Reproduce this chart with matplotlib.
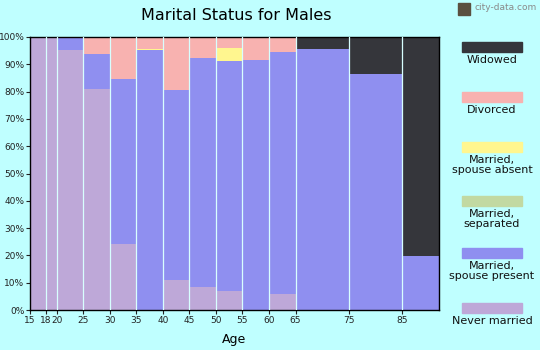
import numpy as np
import matplotlib
matplotlib.use("Agg")
import matplotlib.pyplot as plt
from matplotlib.patches import Rectangle

# age group edges (years)
age_edges = [15, 18, 20, 25, 30, 35, 40, 45, 50, 55, 60, 65, 75, 85, 92]
tick_ages = [15, 18, 20, 25, 30, 35, 40, 45, 50, 55, 60, 65, 75, 85]

# shares in percent per age group, bottom to top
never_married = [100, 100, 95.4, 81.1, 24.2, 0, 11.0, 8.4, 7.0, 0, 5.9, 0, 0, 0]
spouse_present = [0, 0, 4.6, 12.8, 60.5, 95.1, 69.7, 84.0, 84.3, 91.7, 88.7, 95.7, 86.6, 19.8]
separated = [0, 0, 0, 0, 0, 0, 0, 0, 0, 0, 0, 0, 0, 0]
spouse_absent = [0, 0, 0, 0, 0, 0.4, 0, 0, 4.8, 0, 0, 0, 0, 0]
divorced = [0, 0, 0, 6.1, 15.3, 4.5, 19.3, 7.6, 3.9, 8.3, 5.4, 0, 0, 0]
widowed = [0, 0, 0, 0, 0, 0, 0, 0, 0, 0, 0, 4.3, 13.4, 80.2]

series = [
    ("Never married", never_married, "#bea8d8"),
    ("Married,\nspouse present", spouse_present, "#8f8ff0"),
    ("Married,\nseparated", separated, "#c2d9a2"),
    ("Married,\nspouse absent", spouse_absent, "#fff68f"),
    ("Divorced", divorced, "#f8b2b0"),
    ("Widowed", widowed, "#35363b"),
]

BG = "#bfffff"

fig = plt.figure(figsize=(5.4, 3.5), dpi=100, facecolor=BG)
ax = fig.add_axes([30 / 540, 40 / 350, 409 / 540, 273 / 350])
ax.set_facecolor(BG)

left = np.array(age_edges[:-1])
widths = np.diff(age_edges)
bottom = np.zeros(len(left))
for name, vals, color in series:
    vals = np.array(vals)
    ax.bar(left, vals, width=widths, bottom=bottom, align="edge",
           color=color, linewidth=0, zorder=2)
    bottom += vals

# thin separators between age groups
for x in age_edges[1:-1]:
    ax.axvline(x, color="#d8ffff", linewidth=0.9, zorder=3)

ax.set_xlim(age_edges[0], age_edges[-1])
ax.set_ylim(0, 100)
ax.set_yticks(range(0, 101, 10))
ax.set_yticklabels([f"{v}%" for v in range(0, 101, 10)], fontsize=6.5)
ax.set_xticks(tick_ages)
ax.set_xticklabels([str(a) for a in tick_ages], fontsize=6.5)
ax.tick_params(length=3, width=0.8, pad=1, colors="#222222")
for sp in ax.spines.values():
    sp.set_linewidth(1.0)
    sp.set_color("black")
ax.set_xlabel("Age", fontsize=9, labelpad=6)

fig.text(236 / 540, 1 - 16 / 350, "Marital Status for Males", fontsize=11.5,
         ha="center", va="center")
fig.text(1 - 3 / 540, 1 - 8 / 350, "city-data.com", fontsize=6.5, color="#8a8a8a",
         ha="right", va="center")
fig.patches.append(Rectangle((458 / 540, 1 - 15 / 350), 12 / 540, 12 / 350,
                             transform=fig.transFigure, color="#5a5040"))

# legend column on the right, top entry first
legend_y = [47, 97, 147, 201, 253, 308]
for (name, vals, color), y in zip(reversed(series), legend_y):
    fig.patches.append(Rectangle((462 / 540, 1 - (y + 5) / 350), 60 / 540, 10 / 350,
                                 transform=fig.transFigure, color=color))
    fig.text(492 / 540, 1 - (y + 8) / 350, name, fontsize=8, ha="center", va="top",
             linespacing=1.0, color="#111111")

fig.savefig("out.png", dpi=100, facecolor=BG)
